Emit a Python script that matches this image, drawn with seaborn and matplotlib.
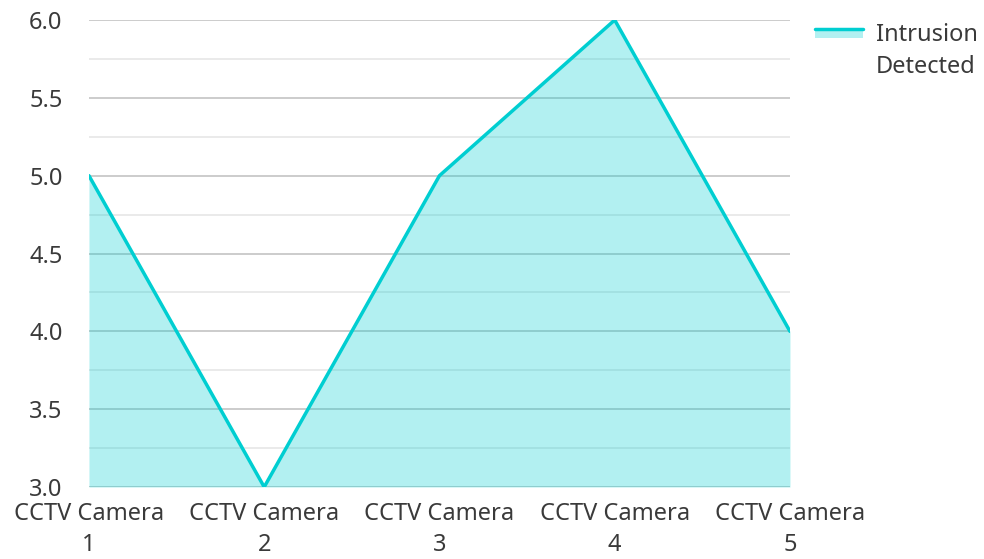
import numpy as np
import pandas as pd
import matplotlib.pyplot as plt
import seaborn as sns
from matplotlib.patches import Rectangle
from matplotlib.lines import Line2D
from matplotlib.legend_handler import HandlerBase
from matplotlib.ticker import MultipleLocator

cameras = ["CCTV Camera\n1", "CCTV Camera\n2", "CCTV Camera\n3", "CCTV Camera\n4", "CCTV Camera\n5"]
intrusions = [5, 3, 5, 6, 4]
series_name = "Intrusion\nDetected"

df = pd.DataFrame({"camera": cameras, "value": intrusions})
color = "#00CED1"
fs = 17


class AreaHandler(HandlerBase):
    # line on top of a light patch, lifted up to the first text line
    def __init__(self, lift=0, **kw):
        super().__init__(**kw)
        self.lift = lift

    def create_artists(self, legend, orig, xdescent, ydescent, width, height, fontsize, trans):
        y0 = -ydescent + self.lift
        rect = Rectangle((-xdescent, y0 - height * 0.55), width, height * 0.55,
                         facecolor=color, alpha=0.3, edgecolor='none', transform=trans)
        line = Line2D([-xdescent, -xdescent + width], [y0, y0], color=color,
                      linewidth=2.5, transform=trans)
        return [rect, line]


sns.set_style("white")
plt.rcParams['font.family'] = ['Noto Sans', 'DejaVu Sans']

fig = plt.figure(figsize=(9.84, 5.59), dpi=100)
ax = fig.add_axes([0.0904, 0.1288, 0.7124, 0.8354])

xs = np.arange(len(cameras))
ax.fill_between(xs, df["value"], 3.0, color=color, alpha=0.3, linewidth=0, zorder=3)
sns.lineplot(x=xs, y=df["value"], ax=ax, color=color, linewidth=2.5, zorder=4)

ax.set_xlim(0, len(cameras) - 1)
ax.set_ylim(3.0, 6.0)
ax.set_xticks(xs)
ax.set_xticklabels(cameras, linespacing=1.38)
ax.yaxis.set_major_locator(MultipleLocator(0.5))
ax.yaxis.set_minor_locator(MultipleLocator(0.25))
ax.yaxis.set_major_formatter(plt.FormatStrFormatter('%.1f'))
ax.set_axisbelow(True)
ax.grid(axis='y', which='major', color='#c4c4c4', linewidth=1.2)
ax.grid(axis='y', which='minor', color='#e6e6e6', linewidth=1.2)
for s in ax.spines.values():
    s.set_visible(False)
ax.tick_params(axis='both', which='both', length=0, labelsize=fs, labelcolor='#3a3a3a')
ax.tick_params(axis='y', pad=19)
ax.tick_params(axis='x', pad=11)
ax.set_xlabel("")
ax.set_ylabel("")

leg = ax.legend([object()], [series_name], handler_map={object: AreaHandler(lift=22)},
                loc='upper left', bbox_to_anchor=(1.006, 1.04), frameon=False, fontsize=fs,
                handlelength=2.0, handletextpad=0.55, labelcolor='#3a3a3a')
for t in leg.get_texts():
    t.set_linespacing(1.45)

fig.savefig("out.png", dpi=100)
